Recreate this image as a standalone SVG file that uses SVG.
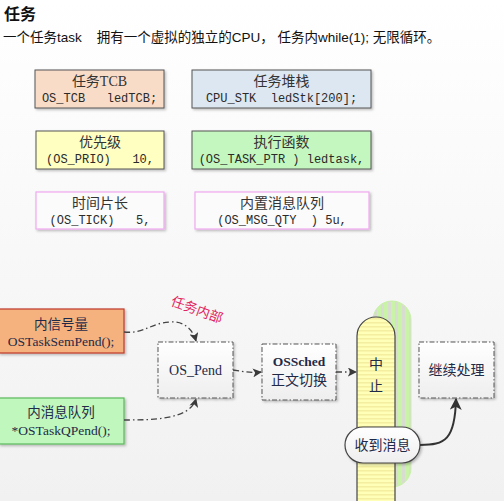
<svg xmlns="http://www.w3.org/2000/svg" width="504" height="501" viewBox="0 0 504 501">
<defs>
<linearGradient id="bg" x1="0" y1="0" x2="0" y2="1"><stop offset="0" stop-color="#ffffff"/><stop offset="1" stop-color="#f1f1f1"/></linearGradient>
<linearGradient id="wg" x1="0" y1="0" x2="0" y2="1"><stop offset="0" stop-color="#ffffff"/><stop offset="1" stop-color="#eeeeee"/></linearGradient>
<pattern id="ystripe" width="6" height="4" patternUnits="userSpaceOnUse"><rect width="6" height="4" fill="#ffffb8"/><rect y="2" width="6" height="1.5" fill="#f3eea0"/></pattern>
<pattern id="gstripe" width="7" height="6" patternUnits="userSpaceOnUse"><rect width="7" height="6" fill="#c9f3a6"/><rect x="3" width="3" height="6" fill="#d9dcd0"/></pattern>
<filter id="sh" x="-10%" y="-10%" width="130%" height="140%"><feDropShadow dx="1.5" dy="1.5" stdDeviation="1" flood-color="#000" flood-opacity="0.25"/></filter>
<marker id="ah" viewBox="0 0 10 10" refX="9" refY="5" markerWidth="9" markerHeight="9" orient="auto" markerUnits="userSpaceOnUse"><path d="M0,0 L10,5 L0,10 L2.5,5 Z" fill="#3a3a3a"/></marker>
<marker id="ahb" viewBox="0 0 10 10" refX="9" refY="5" markerWidth="12" markerHeight="12" orient="auto" markerUnits="userSpaceOnUse"><path d="M0,0 L10,5 L0,10 L2.5,5 Z" fill="#333"/></marker>
<style>
.t{font-family:"Liberation Serif","Noto Sans CJK SC",serif;font-size:14px;fill:#333;text-anchor:middle}
.m{font-family:"Liberation Mono","Noto Sans CJK SC",monospace;font-size:12px;fill:#2a2a2a;text-anchor:middle;white-space:pre}
.b{font-family:"Liberation Serif","Noto Sans CJK SC",serif;font-size:14px;fill:#1e2a48;text-anchor:middle}
.box{stroke:#555;stroke-width:1;filter:url(#sh)}
.dd{fill:url(#wg);stroke:#555;stroke-width:1;stroke-dasharray:5 2 1.5 2;filter:url(#sh)}
.cn{fill:none;stroke:#444;stroke-width:1.3;stroke-dasharray:6 3 1.5 3}
</style>
</defs>
<rect width="504" height="501" fill="url(#bg)"/>
<text x="4" y="20" style="font-family:'Noto Sans CJK SC',sans-serif;font-size:16px;font-weight:bold;fill:#111">任务</text>
<text x="3" y="42" style="font-family:'Liberation Sans','Noto Sans CJK SC',sans-serif;font-size:13.5px;fill:#111;white-space:pre">一个任务task    拥有一个虚拟的独立的CPU， 任务内while(1); 无限循环。</text>

<g id="tcb"><rect class="box" x="35" y="70" width="129" height="38" fill="#f8dcc8"/><text class="t" x="99.5" y="86">任务TCB</text><text class="m" x="99.5" y="102">OS_TCB   ledTCB;</text></g>
<g id="stack"><rect class="box" x="192" y="70" width="179" height="38" fill="#dde7f1"/><text class="t" x="281.5" y="86">任务堆栈</text><text class="m" x="281.5" y="102">CPU_STK  ledStk[200];</text></g>
<g id="prio"><rect class="box" x="36" y="131" width="128" height="38" fill="#ffffc2"/><text class="t" x="100" y="147">优先级</text><text class="m" x="100" y="163">(OS_PRIO)   10,</text></g>
<g id="func"><rect class="box" x="192" y="131" width="179" height="38" fill="#c4f7bf"/><text class="t" x="281.5" y="147">执行函数</text><text class="m" x="281.5" y="163">(OS_TASK_PTR ) ledtask,</text></g>
<g id="tick"><rect x="36" y="192" width="128" height="37" fill="#fbfbfb" stroke="#f0a8f0" stroke-width="1.2" filter="url(#sh)"/><text class="t" x="100" y="208">时间片长</text><text class="m" x="100" y="224">(OS_TICK)   5,</text></g>
<g id="msgq"><rect x="195" y="192" width="174" height="37" fill="#fbfbfb" stroke="#f0a8f0" stroke-width="1.2" filter="url(#sh)"/><text class="t" x="282" y="208">内置消息队列</text><text class="m" x="282" y="224">(OS_MSG_QTY  ) 5u,</text></g>

<g id="sem"><rect x="-1" y="309" width="125" height="44" fill="#f5b27f" stroke="#c0392b" stroke-width="1.2" filter="url(#sh)"/><text class="b" x="61" y="329" style="font-size:13.5px">内信号量</text><text class="b" x="61" y="346" style="font-size:13.5px">OSTaskSemPend();</text></g>
<g id="qpend"><rect x="-1" y="398" width="125" height="46" fill="#bff7bd" stroke="#5cb85c" stroke-width="1.2" filter="url(#sh)"/><text class="b" x="61" y="417" style="font-size:13.5px">内消息队列</text><text class="b" x="61" y="435" style="font-size:13.5px">*OSTaskQPend();</text></g>

<text x="0" y="0" transform="translate(170,305) rotate(20)" style="font-family:'Noto Sans CJK SC',sans-serif;font-size:13.5px;fill:#e0245e">任务内部</text>

<g id="green-bar"><rect x="373" y="301" width="38" height="186" rx="19" fill="url(#gstripe)" stroke="#c8f0a8" stroke-width="1"/></g>
<g id="stop"><rect x="357" y="317" width="38" height="210" rx="19" fill="url(#ystripe)" stroke="#444" stroke-width="1.2"/><text class="b" x="376" y="369">中</text><text class="b" x="376" y="391">止</text></g>

<g id="pend"><rect class="dd" x="158" y="342" width="75" height="56"/><text class="b" x="195.5" y="375">OS_Pend</text></g>
<g id="sched"><rect class="dd" x="262" y="344" width="74" height="56"/><text class="b" x="299" y="366" style="font-weight:bold;font-size:13.5px">OSSched</text><text class="b" x="299" y="385">正文切换</text></g>
<g id="cont"><rect class="dd" x="419" y="342" width="75" height="56"/><text class="b" x="456.5" y="375">继续处理</text></g>
<g id="recv"><rect x="345" y="427" width="75" height="36" rx="18" fill="url(#wg)" stroke="#444" stroke-width="1.2" filter="url(#sh)"/><text class="b" x="382.5" y="450">收到消息</text></g>

<g id="connectors">
<path class="cn" d="M124,332 C145,334 150,323 170,322 C185,321 193,330 196,341" marker-end="url(#ah)"/>
<path class="cn" d="M124,420 C150,420 190,420 196,399" marker-end="url(#ah)"/>
<path class="cn" d="M233,370 C245,372 252,373 261,372" marker-end="url(#ah)"/>
<path class="cn" d="M336,372 L356,372" marker-end="url(#ah)"/>
<path d="M420,445 C445,445 455,440 456,399" fill="none" stroke="#333" stroke-width="2" marker-end="url(#ahb)"/>
</g>
</svg>
